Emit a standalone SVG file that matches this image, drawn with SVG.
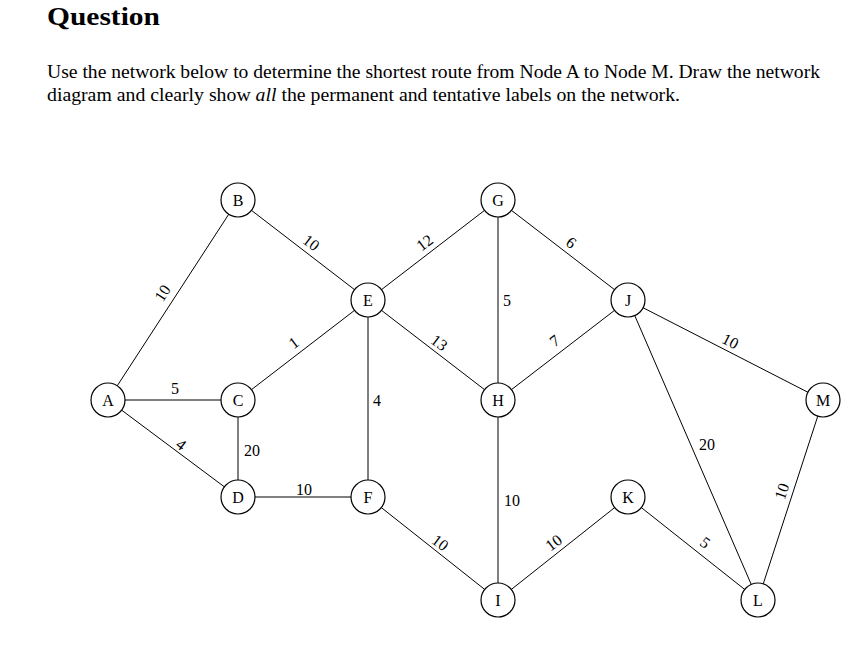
<svg xmlns="http://www.w3.org/2000/svg" width="851" height="647" viewBox="0 0 851 647">
<style>
text{font-family:"Liberation Serif","DejaVu Serif",serif;fill:#000}
.n circle{fill:#fff;stroke:#000;stroke-width:1.2}
.n text{font-size:16px;text-anchor:middle}
.e line{stroke:#000;stroke-width:1}
.l{font-size:16px;text-anchor:middle}
</style>
<rect width="851" height="647" fill="#fff"/>
<text x="47" y="25" font-size="25" font-weight="bold" textLength="113" lengthAdjust="spacingAndGlyphs">Question</text>
<text x="47" y="78" font-size="18" textLength="773" lengthAdjust="spacingAndGlyphs">Use the network below to determine the shortest route from Node A to Node M. Draw the network</text>
<text x="47" y="101" font-size="18" textLength="633" lengthAdjust="spacingAndGlyphs">diagram and clearly show <tspan font-style="italic">all</tspan> the permanent and tentative labels on the network.</text>
<g id="edges" class="e">
<line x1="108" y1="400" x2="238" y2="200"/><line x1="238" y1="200" x2="368" y2="300"/>
<line x1="368" y1="300" x2="498" y2="200"/><line x1="498" y1="200" x2="628" y2="300"/>
<line x1="238" y1="400" x2="368" y2="300"/><line x1="368" y1="300" x2="498" y2="400"/>
<line x1="498" y1="400" x2="628" y2="300"/><line x1="628" y1="300" x2="823" y2="400"/>
<line x1="108" y1="400" x2="238" y2="400"/><line x1="108" y1="400" x2="238" y2="497"/>
<line x1="238" y1="400" x2="238" y2="497"/><line x1="238" y1="497" x2="368" y2="497"/>
<line x1="368" y1="300" x2="368" y2="497"/><line x1="498" y1="200" x2="498" y2="400"/>
<line x1="498" y1="400" x2="498" y2="600"/><line x1="368" y1="497" x2="498" y2="600"/>
<line x1="498" y1="600" x2="628" y2="497"/><line x1="628" y1="300" x2="758" y2="600"/>
<line x1="628" y1="497" x2="758" y2="600"/><line x1="758" y1="600" x2="823" y2="400"/>
</g>
<g id="labels" class="l">
<text transform="translate(167,296) rotate(-57)">10</text>
<text transform="translate(308,247) rotate(37)">10</text>
<text transform="translate(428,247) rotate(-37)">12</text>
<text transform="translate(568,247) rotate(37)">6</text>
<text transform="translate(297,347) rotate(-37)">1</text>
<text transform="translate(436,347) rotate(37)">13</text>
<text transform="translate(558,345) rotate(-37)">7</text>
<text transform="translate(728,346) rotate(27)">10</text>
<text x="175" y="394">5</text>
<text transform="translate(178,449) rotate(37)">4</text>
<text x="252" y="456">20</text>
<text x="304" y="495">10</text>
<text x="377" y="406">4</text>
<text x="507" y="306">5</text>
<text x="512" y="506">10</text>
<text transform="translate(437,547) rotate(37)">10</text>
<text transform="translate(557,547) rotate(-37)">10</text>
<text x="707" y="450">20</text>
<text transform="translate(702,547) rotate(37)">5</text>
<text transform="translate(787,493) rotate(-72)">10</text>
</g>
<g id="A" class="n"><circle cx="108" cy="400" r="17"/><text x="108" y="406">A</text></g>
<g id="B" class="n"><circle cx="238" cy="200" r="17"/><text x="238" y="206">B</text></g>
<g id="C" class="n"><circle cx="238" cy="400" r="17"/><text x="238" y="406">C</text></g>
<g id="D" class="n"><circle cx="238" cy="497" r="17"/><text x="238" y="503">D</text></g>
<g id="E" class="n"><circle cx="368" cy="300" r="17"/><text x="368" y="306">E</text></g>
<g id="F" class="n"><circle cx="368" cy="497" r="17"/><text x="368" y="503">F</text></g>
<g id="G" class="n"><circle cx="498" cy="200" r="17"/><text x="498" y="206">G</text></g>
<g id="H" class="n"><circle cx="498" cy="400" r="17"/><text x="498" y="406">H</text></g>
<g id="I" class="n"><circle cx="498" cy="600" r="17"/><text x="498" y="606">I</text></g>
<g id="J" class="n"><circle cx="628" cy="300" r="17"/><text x="628" y="306">J</text></g>
<g id="K" class="n"><circle cx="628" cy="497" r="17"/><text x="628" y="503">K</text></g>
<g id="L" class="n"><circle cx="758" cy="600" r="17"/><text x="758" y="606">L</text></g>
<g id="M" class="n"><circle cx="823" cy="400" r="17"/><text x="823" y="406">M</text></g>
</svg>
